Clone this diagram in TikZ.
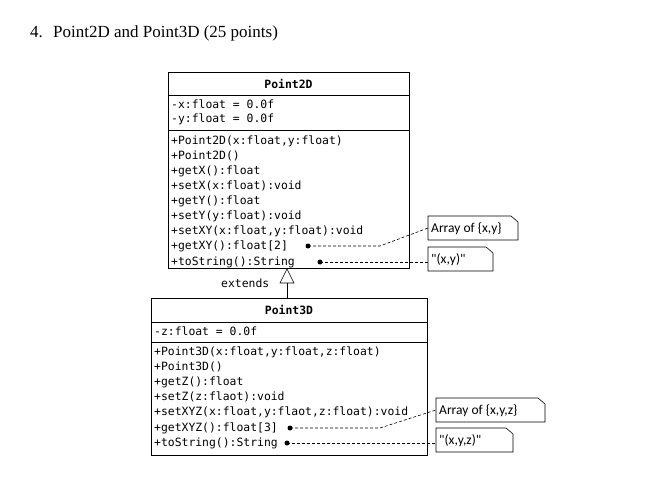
\documentclass[tikz,border=0pt]{standalone}
\usepackage{fontspec}
\setmainfont{Liberation Serif}
\newfontfamily\monof{DejaVu Sans Mono}
\newfontfamily\notef{Carlito}
\begin{document}
\begin{tikzpicture}[x=1pt,y=-1pt,
  mt/.style={anchor=west,inner sep=0pt,font=\monof\fontsize{11.4}{11.4}\selectfont},
  nt/.style={anchor=west,inner sep=0pt,font=\notef\fontsize{13.5}{13.5}\selectfont},
  box/.style={draw,line width=0.6pt},
  dl/.style={densely dashed,line width=0.6pt},
  dot/.style={circle,fill,inner sep=0pt,minimum size=5pt}]
\useasboundingbox (0,0) rectangle (671,478);
\node[anchor=west,inner sep=0pt,font=\fontsize{17}{17}\selectfont] (title) at (30,33) {4.\hspace{0.6em}Point2D and Point3D (25 points)};
% Point2D
\draw[box] (168,72) rectangle (409,268);
\draw[box] (168,95) -- (409,95); \draw[box] (168,130) -- (409,130);
\node[mt,anchor=center,font=\monof\bfseries\fontsize{11.4}{11.4}\selectfont] (p2n) at (288.5,84) {Point2D};
\foreach \t/\y in {{-x:float = 0.0f}/104,{-y:float = 0.0f}/119,{+Point2D(x:float,y:float)}/141,{+Point2D()}/156,{+getX():float}/171,{+setX(x:float):void}/186,{+getY():float}/201,{+setY(y:float):void}/216,{+setXY(x:float,y:float):void}/231,{+getXY():float[2]}/246,{+toString():String}/262}
  \node[mt] at (171,\y) {\t};
% Point3D
\draw[box] (151,298) rectangle (427,455);
\draw[box] (151,322) -- (427,322); \draw[box] (151,342) -- (427,342);
\node[mt,anchor=center,font=\monof\bfseries\fontsize{11.4}{11.4}\selectfont] (p3n) at (289,310) {Point3D};
\foreach \t/\y in {{-z:float = 0.0f}/331,{+Point3D(x:float,y:float,z:float)}/352,{+Point3D()}/367,{+getZ():float}/382,{+setZ(z:flaot):void}/397,{+setXYZ(x:float,y:flaot,z:float):void}/412,{+getXYZ():float[3]}/428,{+toString():String}/443}
  \node[mt] at (154,\y) {\t};
% extends
\coordinate (apex) at (287,269);
\coordinate (base) at (287,283);
\coordinate (p3top) at (287,298);
\draw[line width=0.6pt] (base) -- (p3top);
\draw[line width=0.6pt,fill=white] (apex) -- (280,283) -- (294,283) -- cycle;
\node[mt] (ext) at (221,283) {extends};
% notes
\def\note#1#2#3#4{\draw[line width=0.6pt] (#1,#2) -- ({#3-7},#2) -- (#3,{#2+6}) -- (#3,#4) -- (#1,#4) -- cycle;}
\note{428}{216}{518}{240}
\note{428}{247}{493}{271}
\note{436}{398}{545}{422}
\note{436}{428}{513}{452}
\node[nt] (n1) at (431,229) {Array of \{x,y\}};
\node[nt] (n2) at (431,260) {"(x,y)"};
\node[nt] (n3) at (439,411) {Array of \{x,y,z\}};
\node[nt] (n4) at (439,441) {"(x,y,z)"};
\node[dot] (d1) at (308,246) {};
\node[dot] (d2) at (320,262) {};
\node[dot] (d3) at (290,428) {};
\node[dot] (d4) at (287,443) {};
\draw[dl] (d1.center) -- (380,246) -- (428,228);
\draw[dl] (d2.center) -- (428,262);
\draw[dl] (d3.center) -- (380,428) -- (436,410);
\draw[dl] (d4.center) -- (436,443);
\end{tikzpicture}
\end{document}
